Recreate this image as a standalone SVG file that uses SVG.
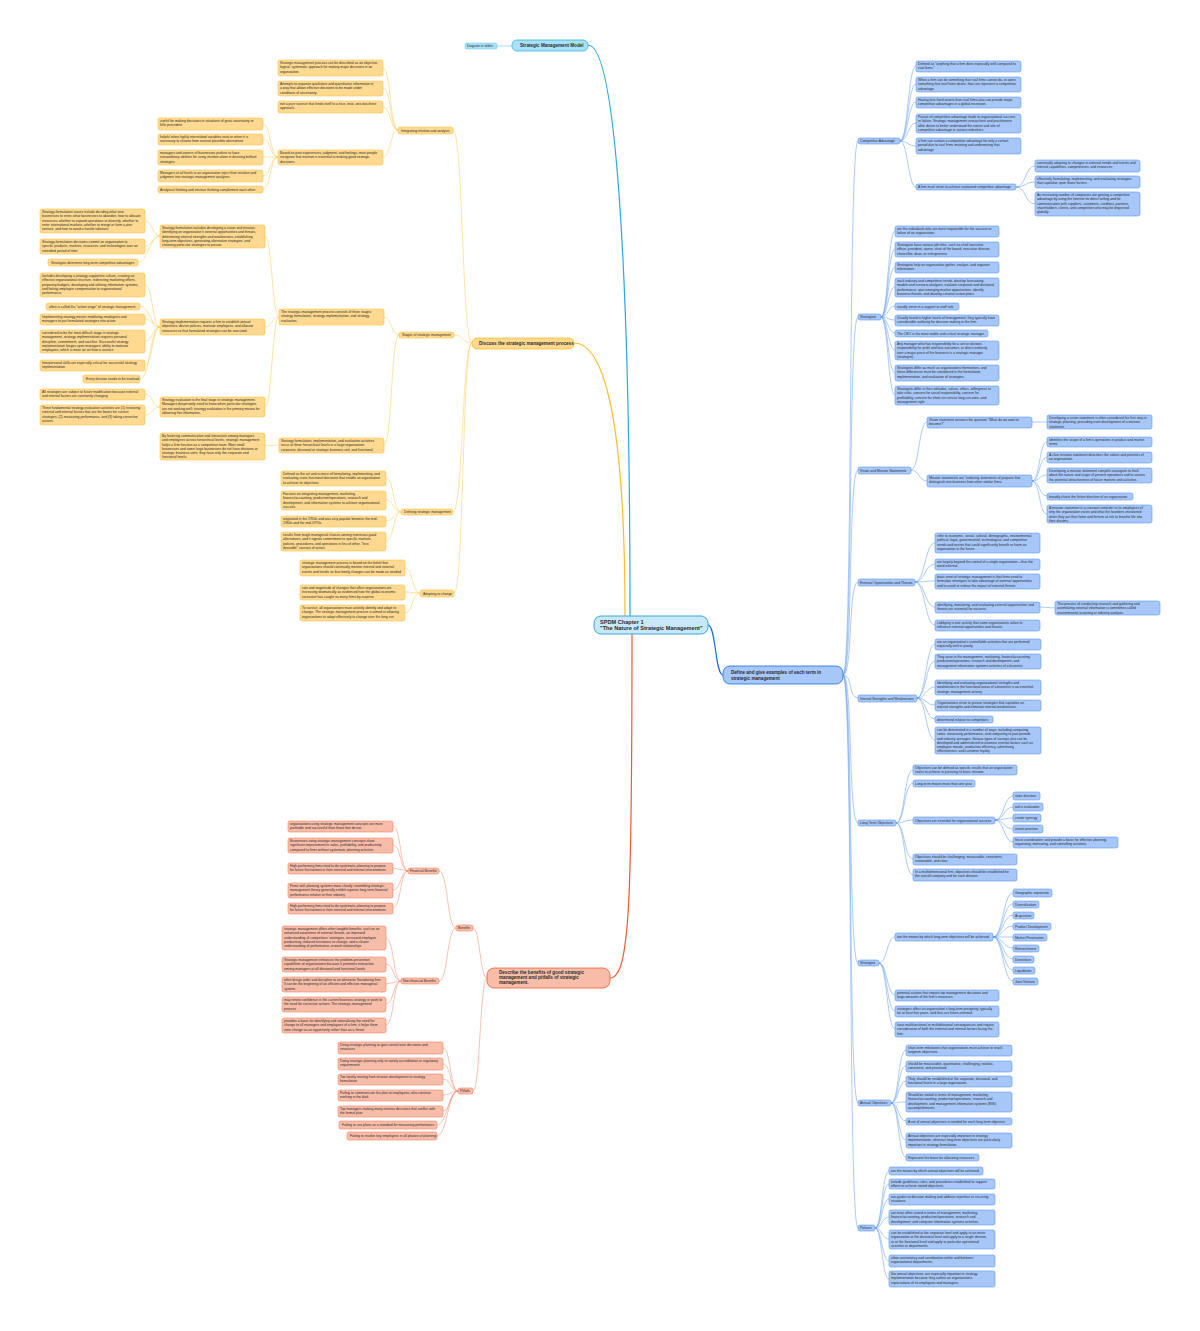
<svg xmlns="http://www.w3.org/2000/svg" width="1200" height="1331" viewBox="0 0 1200 1331">
<style>
text{font-family:"Liberation Sans",Arial,sans-serif;fill:#2b2b2b;font-size:3.4px}
.o{fill:#fed98f;stroke:#fcc245;stroke-width:.6}
.b{fill:#a7c7f9;stroke:#5d98ee;stroke-width:.6}
.r{fill:#f8bda9;stroke:#f2835f;stroke-width:.6}
.l2{font-size:3.8px}
.main{font-size:5px;font-weight:bold}
#connectors path{fill:none}
.co{stroke:#fcc64f;stroke-width:.5}
.cb{stroke:#5b97ee;stroke-width:.5}
.cr{stroke:#f2866a;stroke-width:.5}
</style>
<rect width="1200" height="1331" fill="#fff"/>
<g id="connectors">
<path d="M630,616 C630,300 618,45 588,45" stroke="#2aa6e6" stroke-width="1.2"/>
<path d="M512,46 L497,46" stroke="#6cc4ef" stroke-width=".6"/>
<path d="M625,616 C625,400 600,343 574,343" stroke="#fbbd2e" stroke-width="1.2"/>
<path d="M632,634 C632,900 630,978 610,978" stroke="#ef5a32" stroke-width="1.2"/>
<path d="M708,625 C716,625 715,675 723,675" stroke="#1a6fdd" stroke-width="1.2"/>
<g class="co">
<path d="M472,343 C462,343 463,130 453,130"/><path d="M472,343 C462,343 464,335 454,335"/><path d="M472,343 C462,343 463,512 453,512"/><path d="M472,343 C462,343 464,593 454,593"/>
<path d="M398,130 C390,130 391,68 383,68"/><path d="M398,130 C390,130 391,88 383,88"/><path d="M398,130 C390,130 391,107 383,107"/><path d="M398,130 C390,130 391,157 383,157"/>
<path d="M278,157 C270,157 271,124 263,124"/><path d="M278,157 C270,157 271,139 263,139"/><path d="M278,157 L263,157"/><path d="M278,157 C270,157 271,176 263,176"/><path d="M278,157 C270,157 271,189 263,189"/>
<path d="M399,335 C391,335 392,317 384,317"/><path d="M399,335 C391,335 392,445 384,445"/>
<path d="M279,317 C272,317 272,236 265,236"/><path d="M279,317 C272,317 272,327 265,327"/><path d="M279,317 C272,317 272,407 265,407"/>
<path d="M160,236 C152,236 153,221 145,221"/><path d="M160,236 C152,236 153,246 145,246"/><path d="M160,236 C150,236 148,262 138,262"/>
<path d="M160,327 C152,327 153,285 145,285"/><path d="M160,327 C150,327 150,306 140,306"/><path d="M160,327 C152,327 153,319 145,319"/><path d="M160,327 C152,327 153,341 145,341"/><path d="M160,327 C152,327 153,365 145,365"/><path d="M160,327 C150,327 150,379 140,379"/>
<path d="M160,407 C152,407 153,394 145,394"/><path d="M160,407 C152,407 153,415 145,415"/>
<path d="M279,445 L265,446"/>
<path d="M401,512 C393,512 394,478 386,478"/><path d="M401,512 C393,512 394,500 386,500"/><path d="M401,512 C393,512 394,521 386,521"/><path d="M401,512 C393,512 394,541 386,541"/>
<path d="M420,593 C412,593 413,568 405,568"/><path d="M420,593 L405,592"/><path d="M420,593 C412,593 413,613 405,613"/>
</g>
<g class="cb">
<path d="M843,675 C853,675 848,141 858,141"/><path d="M843,675 C853,675 848,317 858,317"/><path d="M843,675 C853,675 848,470 858,470"/><path d="M843,675 C853,675 848,582 858,582"/><path d="M843,675 C853,675 848,698 858,698"/><path d="M843,675 C853,675 848,823 858,823"/><path d="M843,675 C853,675 848,963 858,963"/><path d="M843,675 C853,675 848,1103 858,1103"/><path d="M843,675 C853,675 848,1228 858,1228"/>
<path d="M900,141 C908,141 908,66 916,66"/><path d="M900,141 C908,141 908,84 916,84"/><path d="M900,141 C908,141 908,102 916,102"/><path d="M900,141 C908,141 908,123 916,123"/><path d="M900,141 C908,141 908,146 916,146"/><path d="M900,141 C908,141 908,187 916,187"/>
<path d="M1016,187 C1026,187 1025,166 1035,166"/><path d="M1016,187 C1026,187 1025,182 1035,182"/><path d="M1016,187 C1026,187 1025,204 1035,204"/>
<path d="M881,317 C888,317 888,231 895,231"/><path d="M881,317 C888,317 888,249 895,249"/><path d="M881,317 C888,317 888,267 895,267"/><path d="M881,317 C888,317 888,287 895,287"/><path d="M881,317 C888,317 888,306 895,306"/><path d="M881,317 C888,317 888,320 895,320"/><path d="M881,317 C888,317 888,333 895,333"/><path d="M881,317 C888,317 888,350 895,350"/><path d="M881,317 C888,317 888,373 895,373"/><path d="M881,317 C888,317 888,395 895,395"/>
<path d="M911,470 C919,470 919,422 927,422"/><path d="M911,470 C919,470 919,481 927,481"/><path d="M1032,422 L1047,422"/>
<path d="M1032,481 C1040,481 1039,442 1047,442"/><path d="M1032,481 C1040,481 1039,457 1047,457"/><path d="M1032,481 C1040,481 1039,475 1047,475"/><path d="M1032,481 C1040,481 1039,496 1047,496"/><path d="M1032,481 C1040,481 1039,514 1047,514"/>
<path d="M915,582 C925,582 925,543 935,543"/><path d="M915,582 C925,582 925,564 935,564"/><path d="M915,582 C925,582 925,581 935,581"/><path d="M915,582 C925,582 925,607 935,607"/><path d="M915,582 C925,582 925,625 935,625"/><path d="M1040,607 L1055,608"/>
<path d="M917,698 C926,698 926,644 935,644"/><path d="M917,698 C926,698 926,661 935,661"/><path d="M917,698 C926,698 926,687 935,687"/><path d="M917,698 C926,698 926,705 935,705"/><path d="M917,698 C926,698 926,719 935,719"/><path d="M917,698 C926,698 926,740 935,740"/>
<path d="M896,823 C905,823 904,770 913,770"/><path d="M896,823 C905,823 904,783 913,783"/><path d="M896,823 C905,823 904,820 913,820"/><path d="M896,823 C905,823 904,859 913,859"/><path d="M896,823 C905,823 904,875 913,875"/>
<path d="M995,820 C1004,820 1004,796 1013,796"/><path d="M995,820 C1004,820 1004,807 1013,807"/><path d="M995,820 C1004,820 1004,818 1013,818"/><path d="M995,820 C1004,820 1004,829 1013,829"/><path d="M995,820 C1004,820 1004,842 1013,842"/>
<path d="M879,963 C887,963 887,937 895,937"/><path d="M879,963 C887,963 887,995 895,995"/><path d="M879,963 C887,963 887,1011 895,1011"/><path d="M879,963 C887,963 887,1029 895,1029"/>
<path d="M993,937 C1003,937 1003,893 1013,893"/><path d="M993,937 C1003,937 1003,904 1013,904"/><path d="M993,937 C1003,937 1003,915 1013,915"/><path d="M993,937 C1003,937 1003,926 1013,926"/><path d="M993,937 L1013,937"/><path d="M993,937 C1003,937 1003,948 1013,948"/><path d="M993,937 C1003,937 1003,959 1013,959"/><path d="M993,937 C1003,937 1003,970 1013,970"/><path d="M993,937 C1003,937 1003,981 1013,981"/>
<path d="M891,1103 C899,1103 898,1050 906,1050"/><path d="M891,1103 C899,1103 898,1066 906,1066"/><path d="M891,1103 C899,1103 898,1081 906,1081"/><path d="M891,1103 C899,1103 898,1102 906,1102"/><path d="M891,1103 C899,1103 898,1121 906,1121"/><path d="M891,1103 C899,1103 898,1140 906,1140"/><path d="M891,1103 C899,1103 898,1157 906,1157"/>
<path d="M875,1228 C882,1228 882,1171 889,1171"/><path d="M875,1228 C882,1228 882,1184 889,1184"/><path d="M875,1228 C882,1228 882,1199 889,1199"/><path d="M875,1228 C882,1228 882,1217 889,1217"/><path d="M875,1228 C882,1228 882,1239 889,1239"/><path d="M875,1228 C882,1228 882,1261 889,1261"/><path d="M875,1228 C882,1228 882,1279 889,1279"/>
</g>
<g class="cr">
<path d="M487,978 C480,978 480,928 473,928"/><path d="M487,978 C480,978 480,1091 473,1091"/>
<path d="M456,928 C447,928 448,871 439,871"/><path d="M456,928 C447,928 448,981 439,981"/>
<path d="M408,871 C400,871 401,826 393,826"/><path d="M408,871 C400,871 401,845 393,845"/><path d="M408,871 L393,868"/><path d="M408,871 C400,871 401,890 393,890"/><path d="M408,871 C400,871 401,908 393,908"/>
<path d="M401,981 C393,981 394,938 386,938"/><path d="M401,981 C393,981 394,964 386,964"/><path d="M401,981 L386,984"/><path d="M401,981 C393,981 394,1004 386,1004"/><path d="M401,981 C393,981 394,1025 386,1025"/>
<path d="M458,1091 C450,1091 451,1048 443,1048"/><path d="M458,1091 C450,1091 451,1064 443,1064"/><path d="M458,1091 C450,1091 451,1079 443,1079"/><path d="M458,1091 C450,1091 451,1095 443,1095"/><path d="M458,1091 C450,1091 451,1111 443,1111"/><path d="M458,1091 C448,1091 447,1125 437,1125"/><path d="M458,1091 C448,1091 447,1136 437,1136"/>
</g>
</g>

<g id="root"><rect x="594" y="616" width="114" height="18" rx="7" fill="#c6e8f8" stroke="#3aa7e0" stroke-width="1"/><text x="600" y="624" class="main" style="font-size:5.6px">SPDM Chapter 1<tspan x="600" dy="6">"The Nature of Strategic Management"</tspan></text></g>
<g id="smm"><rect x="512" y="40" width="76" height="11" rx="5" fill="#a8e1f8" stroke="#39b0e8" stroke-width=".8"/><text x="520" y="47.3" class="main" style="font-size:4.6px">Strategic Management Model</text></g>
<g id="slides"><rect x="465" y="43" width="32" height="6" rx="1.5" fill="#a8e1f8" stroke="#6cc4ef" stroke-width=".5"/><text x="467" y="47.3">Diagram in slides</text></g>
<g id="discuss"><rect x="472" y="338" width="102" height="11" rx="5" fill="#fed98f" stroke="#fbbd2e" stroke-width=".8"/><text x="479" y="345.2" class="main" style="font-size:4.6px">Discuss the strategic management process</text></g>
<g id="define"><rect x="723" y="666" width="120" height="18" rx="7" fill="#a7c7f9" stroke="#1a6fdd" stroke-width=".8"/><text x="731" y="674" class="main" style="font-size:4.6px">Define and give examples of each term in<tspan x="731" dy="5.5">strategic management</tspan></text></g>
<g id="describe"><rect x="487" y="968" width="123" height="20" rx="7" fill="#f8bda9" stroke="#ef5a32" stroke-width=".8"/><text x="499" y="974" class="main" style="font-size:4.6px">Describe the benefits of good strategic<tspan x="499" dy="5">management and pitfalls of strategic</tspan><tspan x="499" dy="5">management.</tspan></text></g>

<!-- orange -->
<g id="integ"><rect class="o" x="398" y="127" width="55" height="7" rx="2"/><text x="401" y="131.8">Integrating intuition and analysis</text></g>
<g id="i1"><rect class="o" x="278" y="60" width="105" height="16" rx="2"/><text x="280" y="64.3">Strategic management process can be described as an objective,<tspan x="280" dy="4.1">logical, systematic approach for making major decisions in an</tspan><tspan x="280" dy="4.1">organization.</tspan></text></g>
<g id="i2"><rect class="o" x="278" y="81" width="105" height="15" rx="2"/><text x="280" y="85.3">Attempts to organize qualitative and quantitative information in<tspan x="280" dy="4.1">a way that allows effective decisions to be made under</tspan><tspan x="280" dy="4.1">conditions of uncertainty.</tspan></text></g>
<g id="i3"><rect class="o" x="278" y="101" width="105" height="12" rx="2"/><text x="280" y="105.3">not a pure science that lends itself to a nice, neat, one-two-three<tspan x="280" dy="4.1">approach.</tspan></text></g>
<g id="i4"><rect class="o" x="278" y="150" width="105" height="15" rx="2"/><text x="280" y="154.3">Based on past experiences, judgment, and feelings, most people<tspan x="280" dy="4.1">recognize that intuition is essential to making good strategic</tspan><tspan x="280" dy="4.1">decisions.</tspan></text></g>
<g id="b1"><rect class="o" x="158" y="118" width="105" height="12" rx="2"/><text x="160" y="122.3">useful for making decisions in situations of great uncertainty or<tspan x="160" dy="4.1">little precedent</tspan></text></g>
<g id="b2"><rect class="o" x="158" y="134" width="105" height="11" rx="2"/><text x="160" y="138.3">helpful when highly interrelated variables exist or when it is<tspan x="160" dy="4.1">necessary to choose from several plausible alternatives</tspan></text></g>
<g id="b3"><rect class="o" x="158" y="150" width="105" height="15" rx="2"/><text x="160" y="154.3">managers and owners of businesses profess to have<tspan x="160" dy="4.1">extraordinary abilities for using intuition alone in devising brilliant</tspan><tspan x="160" dy="4.1">strategies</tspan></text></g>
<g id="b4"><rect class="o" x="158" y="170" width="105" height="12" rx="2"/><text x="160" y="174.3">Managers at all levels in an organization inject their intuition and<tspan x="160" dy="4.1">judgment into strategic-management analyses.</tspan></text></g>
<g id="b5"><rect class="o" x="158" y="186" width="105" height="7" rx="2"/><text x="160" y="190.6">Analytical thinking and intuitive thinking complement each other.</text></g>

<g id="stages"><rect class="o" x="399" y="332" width="55" height="6" rx="2"/><text x="402" y="336.3">Stages of strategic management</text></g>
<g id="s1"><rect class="o" x="279" y="309" width="105" height="16" rx="2"/><text x="281" y="313.3">The strategic-management process consists of three stages:<tspan x="281" dy="4.1">strategy formulation, strategy implementation, and strategy</tspan><tspan x="281" dy="4.1">evaluation.</tspan></text></g>
<g id="f0"><rect class="o" x="160" y="225" width="105" height="23" rx="2"/><text x="162" y="229.3">Strategy formulation includes developing a vision and mission,<tspan x="162" dy="4.1">identifying an organization's external opportunities and threats,</tspan><tspan x="162" dy="4.1">determining internal strengths and weaknesses, establishing</tspan><tspan x="162" dy="4.1">long-term objectives, generating alternative strategies, and</tspan><tspan x="162" dy="4.1">choosing particular strategies to pursue.</tspan></text></g>
<g id="f1"><rect class="o" x="40" y="209" width="105" height="24" rx="2"/><text x="42" y="213.3">Strategy-formulation issues include deciding what new<tspan x="42" dy="4.1">businesses to enter, what businesses to abandon, how to allocate</tspan><tspan x="42" dy="4.1">resources, whether to expand operations or diversify, whether to</tspan><tspan x="42" dy="4.1">enter international markets, whether to merge or form a joint</tspan><tspan x="42" dy="4.1">venture, and how to avoid a hostile takeover.</tspan></text></g>
<g id="f2"><rect class="o" x="40" y="239" width="105" height="15" rx="2"/><text x="42" y="243.3">Strategy-formulation decisions commit an organization to<tspan x="42" dy="4.1">specific products, markets, resources, and technologies over an</tspan><tspan x="42" dy="4.1">extended period of time.</tspan></text></g>
<g id="f3"><rect class="o" x="48" y="259" width="90" height="7" rx="2"/><text x="51" y="263.6">Strategies determine long-term competitive advantages</text></g>
<g id="m0"><rect class="o" x="160" y="319" width="105" height="16" rx="2"/><text x="162" y="323.3">Strategy implementation requires a firm to establish annual<tspan x="162" dy="4.1">objectives, devise policies, motivate employees, and allocate</tspan><tspan x="162" dy="4.1">resources so that formulated strategies can be executed.</tspan></text></g>
<g id="m1"><rect class="o" x="40" y="273" width="105" height="24" rx="2"/><text x="42" y="277.3">Includes developing a strategy-supportive culture, creating an<tspan x="42" dy="4.1">effective organizational structure, redirecting marketing efforts,</tspan><tspan x="42" dy="4.1">preparing budgets, developing and utilizing information systems,</tspan><tspan x="42" dy="4.1">and linking employee compensation to organizational</tspan><tspan x="42" dy="4.1">performance.</tspan></text></g>
<g id="m2"><rect class="o" x="46" y="303" width="94" height="7" rx="2"/><text x="49" y="307.6">often is called the "action stage" of strategic management.</text></g>
<g id="m3"><rect class="o" x="40" y="314" width="105" height="11" rx="2"/><text x="42" y="318.3">Implementing strategy means mobilizing employees and<tspan x="42" dy="4.1">managers to put formulated strategies into action</tspan></text></g>
<g id="m4"><rect class="o" x="40" y="330" width="105" height="23" rx="2"/><text x="42" y="334.3">considered to be the most difficult stage in strategic<tspan x="42" dy="4.1">management, strategy implementation requires personal</tspan><tspan x="42" dy="4.1">discipline, commitment, and sacrifice. Successful strategy</tspan><tspan x="42" dy="4.1">implementation hinges upon managers' ability to motivate</tspan><tspan x="42" dy="4.1">employees, which is more an art than a science.</tspan></text></g>
<g id="m5"><rect class="o" x="40" y="360" width="105" height="11" rx="2"/><text x="42" y="364.3">Interpersonal skills are especially critical for successful strategy<tspan x="42" dy="4.1">implementation.</tspan></text></g>
<g id="m6"><rect class="o" x="83" y="375" width="57" height="8" rx="2"/><text x="86" y="380">Every division needs to be involved</text></g>
<g id="e0"><rect class="o" x="160" y="397" width="105" height="20" rx="2"/><text x="162" y="401.3">Strategy evaluation is the final stage in strategic management.<tspan x="162" dy="4.1">Managers desperately need to know when particular strategies</tspan><tspan x="162" dy="4.1">are not working well; strategy evaluation is the primary means for</tspan><tspan x="162" dy="4.1">obtaining this information.</tspan></text></g>
<g id="e1"><rect class="o" x="40" y="389" width="105" height="11" rx="2"/><text x="42" y="393.3">All strategies are subject to future modification because external<tspan x="42" dy="4.1">and internal factors are constantly changing</tspan></text></g>
<g id="e2"><rect class="o" x="40" y="405" width="105" height="20" rx="2"/><text x="42" y="409.3">Three fundamental strategy-evaluation activities are (1) reviewing<tspan x="42" dy="4.1">external and internal factors that are the bases for current</tspan><tspan x="42" dy="4.1">strategies, (2) measuring performance, and (3) taking corrective</tspan><tspan x="42" dy="4.1">actions.</tspan></text></g>
<g id="s2"><rect class="o" x="279" y="438" width="105" height="15" rx="2"/><text x="281" y="442.3">Strategy formulation, implementation, and evaluation activities<tspan x="281" dy="4.1">occur at three hierarchical levels in a large organization:</tspan><tspan x="281" dy="4.1">corporate, divisional or strategic business unit, and functional.</tspan></text></g>
<g id="s3"><rect class="o" x="160" y="433" width="105" height="27" rx="2"/><text x="162" y="437.3">By fostering communication and interaction among managers<tspan x="162" dy="4.1">and employees across hierarchical levels, strategic management</tspan><tspan x="162" dy="4.1">helps a firm function as a competitive team. Most small</tspan><tspan x="162" dy="4.1">businesses and some large businesses do not have divisions or</tspan><tspan x="162" dy="4.1">strategic business units; they have only the corporate and</tspan><tspan x="162" dy="4.1">functional levels.</tspan></text></g>

<g id="defining"><rect class="o" x="401" y="509" width="52" height="6" rx="2"/><text x="404" y="513.3">Defining strategic management</text></g>
<g id="d1"><rect class="o" x="281" y="471" width="105" height="15" rx="2"/><text x="283" y="475.3">Defined as the art and science of formulating, implementing, and<tspan x="283" dy="4.1">evaluating cross-functional decisions that enable an organization</tspan><tspan x="283" dy="4.1">to achieve its objectives</tspan></text></g>
<g id="d2"><rect class="o" x="281" y="491" width="105" height="19" rx="2"/><text x="283" y="495.3">Focuses on integrating management, marketing,<tspan x="283" dy="4.1">finance/accounting, production/operations, research and</tspan><tspan x="283" dy="4.1">development, and information systems to achieve organizational</tspan><tspan x="283" dy="4.1">success</tspan></text></g>
<g id="d3"><rect class="o" x="281" y="516" width="105" height="11" rx="2"/><text x="283" y="520.3">originated in the 1950s and was very popular between the mid-<tspan x="283" dy="4.1">1960s and the mid-1970s</tspan></text></g>
<g id="d4"><rect class="o" x="281" y="532" width="105" height="19" rx="2"/><text x="283" y="536.3">results from tough managerial choices among numerous good<tspan x="283" dy="4.1">alternatives, and it signals commitment to specific markets,</tspan><tspan x="283" dy="4.1">policies, procedures, and operations in lieu of other, "less</tspan><tspan x="283" dy="4.1">desirable" courses of action.</tspan></text></g>
<g id="adapt"><rect class="o" x="420" y="590" width="34" height="7" rx="2"/><text x="423" y="594.6">Adapting to change</text></g>
<g id="a1"><rect class="o" x="300" y="560" width="105" height="16" rx="2"/><text x="302" y="564.3">strategic management process is based on the belief that<tspan x="302" dy="4.1">organizations should continually monitor internal and external</tspan><tspan x="302" dy="4.1">events and trends so that timely changes can be made as needed</tspan></text></g>
<g id="a2"><rect class="o" x="300" y="585" width="105" height="15" rx="2"/><text x="302" y="589.3">rate and magnitude of changes that affect organizations are<tspan x="302" dy="4.1">increasing dramatically as evidenced how the global economic</tspan><tspan x="302" dy="4.1">recession has caught so many firms by surprise.</tspan></text></g>
<g id="a3"><rect class="o" x="300" y="605" width="105" height="16" rx="2"/><text x="302" y="609.3">To survive, all organizations must astutely identify and adapt to<tspan x="302" dy="4.1">change. The strategic-management process is aimed at allowing</tspan><tspan x="302" dy="4.1">organizations to adapt effectively to change over the long run.</tspan></text></g>

<!-- blue -->
<g id="ca"><rect class="b" x="858" y="138" width="42" height="6" rx="2"/><text x="860" y="142.3">Competitive Advantage</text></g>
<g id="ca1"><rect class="b" x="916" y="61" width="105" height="11" rx="2"/><text x="918" y="65.3">Defined as "anything that a firm does especially well compared to<tspan x="918" dy="4.1">rival firms."</tspan></text></g>
<g id="ca2"><rect class="b" x="916" y="77" width="105" height="15" rx="2"/><text x="918" y="81.3">When a firm can do something that rival firms cannot do, or owns<tspan x="918" dy="4.1">something that rival firms desire, that can represent a competitive</tspan><tspan x="918" dy="4.1">advantage</tspan></text></g>
<g id="ca3"><rect class="b" x="916" y="97" width="105" height="11" rx="2"/><text x="918" y="101.3">Having less fixed assets than rival firms also can provide major<tspan x="918" dy="4.1">competitive advantages in a global recession.</tspan></text></g>
<g id="ca4"><rect class="b" x="916" y="114" width="105" height="19" rx="2"/><text x="918" y="118.3">Pursuit of competitive advantage leads to organizational success<tspan x="918" dy="4.1">or failure. Strategic management researchers and practitioners</tspan><tspan x="918" dy="4.1">alike desire to better understand the nature and role of</tspan><tspan x="918" dy="4.1">competitive advantage in various industries.</tspan></text></g>
<g id="ca5"><rect class="b" x="916" y="138" width="105" height="16" rx="2"/><text x="918" y="142.3">a firm can sustain a competitive advantage for only a certain<tspan x="918" dy="4.1">period due to rival firms imitating and undermining that</tspan><tspan x="918" dy="4.1">advantage</tspan></text></g>
<g id="ca6"><rect class="b" x="916" y="184" width="100" height="6" rx="2"/><text x="918" y="188.3">A firm must strive to achieve sustained competitive advantage</text></g>
<g id="ca7"><rect class="b" x="1035" y="160" width="105" height="12" rx="2"/><text x="1037" y="164.3">continually adapting to changes in external trends and events and<tspan x="1037" dy="4.1">internal capabilities, competencies, and resources;</tspan></text></g>
<g id="ca8"><rect class="b" x="1035" y="176" width="105" height="12" rx="2"/><text x="1037" y="180.3">effectively formulating, implementing, and evaluating strategies<tspan x="1037" dy="4.1">that capitalize upon those factors.</tspan></text></g>
<g id="ca9"><rect class="b" x="1035" y="192" width="105" height="24" rx="2"/><text x="1037" y="196.3">An increasing number of companies are gaining a competitive<tspan x="1037" dy="4.1">advantage by using the Internet for direct selling and for</tspan><tspan x="1037" dy="4.1">communication with suppliers, customers, creditors, partners,</tspan><tspan x="1037" dy="4.1">shareholders, clients, and competitors who may be dispersed</tspan><tspan x="1037" dy="4.1">globally.</tspan></text></g>

<g id="strat1"><rect class="b" x="858" y="314" width="23" height="6" rx="2"/><text x="860" y="318.3">Strategists</text></g>
<g id="st1"><rect class="b" x="895" y="226" width="104" height="11" rx="2"/><text x="897" y="230.3">are the individuals who are most responsible for the success or<tspan x="897" dy="4.1">failure of an organization.</tspan></text></g>
<g id="st2"><rect class="b" x="895" y="242" width="104" height="15" rx="2"/><text x="897" y="246.3">Strategists have various job titles, such as chief executive<tspan x="897" dy="4.1">officer, president, owner, chair of the board, executive director,</tspan><tspan x="897" dy="4.1">chancellor, dean, or entrepreneur.</tspan></text></g>
<g id="st3"><rect class="b" x="895" y="262" width="104" height="11" rx="2"/><text x="897" y="266.3">Strategists help an organization gather, analyze, and organize<tspan x="897" dy="4.1">information.</tspan></text></g>
<g id="st4"><rect class="b" x="895" y="278" width="104" height="19" rx="2"/><text x="897" y="282.3">track industry and competitive trends, develop forecasting<tspan x="897" dy="4.1">models and scenario analyses, evaluate corporate and divisional</tspan><tspan x="897" dy="4.1">performance, spot emerging market opportunities, identify</tspan><tspan x="897" dy="4.1">business threats, and develop creative action plans.</tspan></text></g>
<g id="st5"><rect class="b" x="895" y="303" width="64" height="7" rx="2"/><text x="897" y="307.6">usually serve in a support or staff role.</text></g>
<g id="st6"><rect class="b" x="895" y="315" width="104" height="11" rx="2"/><text x="897" y="319.3">Usually found in higher levels of management, they typically have<tspan x="897" dy="4.1">considerable authority for decision making in the firm.</tspan></text></g>
<g id="st7"><rect class="b" x="895" y="330" width="93" height="7" rx="2"/><text x="897" y="334.6">The CEO is the most visible and critical strategic manager.</text></g>
<g id="st8"><rect class="b" x="895" y="341" width="104" height="19" rx="2"/><text x="897" y="345.3">Any manager who has responsibility for a unit or division,<tspan x="897" dy="4.1">responsibility for profit and loss outcomes, or direct authority</tspan><tspan x="897" dy="4.1">over a major piece of the business is a strategic manager</tspan><tspan x="897" dy="4.1">(strategist).</tspan></text></g>
<g id="st9"><rect class="b" x="895" y="365" width="104" height="16" rx="2"/><text x="897" y="369.3">Strategists differ as much as organizations themselves, and<tspan x="897" dy="4.1">these differences must be considered in the formulation,</tspan><tspan x="897" dy="4.1">implementation, and evaluation of strategies.</tspan></text></g>
<g id="st10"><rect class="b" x="895" y="386" width="104" height="19" rx="2"/><text x="897" y="390.3">Strategists differ in their attitudes, values, ethics, willingness to<tspan x="897" dy="4.1">take risks, concern for social responsibility, concern for</tspan><tspan x="897" dy="4.1">profitability, concern for short-run versus long-run aims, and</tspan><tspan x="897" dy="4.1">management style</tspan></text></g>

<g id="vm"><rect class="b" x="858" y="467" width="53" height="7" rx="2"/><text x="860" y="471.6">Vision and Mission Statements</text></g>
<g id="vm1"><rect class="b" x="927" y="417" width="105" height="11" rx="2"/><text x="929" y="421.3">Vision statement answers the question "What do we want to<tspan x="929" dy="4.1">become?"</tspan></text></g>
<g id="vm2"><rect class="b" x="1047" y="415" width="105" height="14" rx="2"/><text x="1049" y="419.3">Developing a vision statement is often considered the first step in<tspan x="1049" dy="4.1">strategic planning, preceding even development of a mission</tspan><tspan x="1049" dy="4.1">statement.</tspan></text></g>
<g id="vm3"><rect class="b" x="927" y="475" width="105" height="12" rx="2"/><text x="929" y="479.3">Mission statements are "enduring statements of purpose that<tspan x="929" dy="4.1">distinguish one business from other similar firms.</tspan></text></g>
<g id="vm4"><rect class="b" x="1047" y="437" width="105" height="10" rx="2"/><text x="1049" y="441">Identifies the scope of a firm's operations in product and market<tspan x="1049" dy="4.1">terms</tspan></text></g>
<g id="vm5"><rect class="b" x="1047" y="452" width="105" height="11" rx="2"/><text x="1049" y="456.3">A clear mission statement describes the values and priorities of<tspan x="1049" dy="4.1">an organization.</tspan></text></g>
<g id="vm6"><rect class="b" x="1047" y="468" width="105" height="15" rx="2"/><text x="1049" y="472.3">Developing a mission statement compels strategists to think<tspan x="1049" dy="4.1">about the nature and scope of present operations and to assess</tspan><tspan x="1049" dy="4.1">the potential attractiveness of future markets and activities.</tspan></text></g>
<g id="vm7"><rect class="b" x="1047" y="493" width="86" height="7" rx="2"/><text x="1049" y="497.6">broadly charts the future direction of an organization.</text></g>
<g id="vm8"><rect class="b" x="1047" y="505" width="105" height="18" rx="2"/><text x="1049" y="509.3">A mission statement is a constant reminder to its employees of<tspan x="1049" dy="4.1">why the organization exists and what the founders envisioned</tspan><tspan x="1049" dy="4.1">when they put their fame and fortune at risk to breathe life into</tspan><tspan x="1049" dy="4.1">their dreams.</tspan></text></g>

<g id="eot"><rect class="b" x="858" y="579" width="57" height="7" rx="2"/><text x="860" y="583.6">External Opportunities and Threats</text></g>
<g id="eo1"><rect class="b" x="935" y="533" width="105" height="20" rx="2"/><text x="937" y="537.3">refer to economic, social, cultural, demographic, environmental,<tspan x="937" dy="4.1">political, legal, governmental, technological, and competitive</tspan><tspan x="937" dy="4.1">trends and events that could significantly benefit or harm an</tspan><tspan x="937" dy="4.1">organization in the future.</tspan></text></g>
<g id="eo2"><rect class="b" x="935" y="559" width="105" height="11" rx="2"/><text x="937" y="563.3">are largely beyond the control of a single organization—thus the<tspan x="937" dy="4.1">word external.</tspan></text></g>
<g id="eo3"><rect class="b" x="935" y="574" width="105" height="15" rx="2"/><text x="937" y="578.3">basic tenet of strategic management is that firms need to<tspan x="937" dy="4.1">formulate strategies to take advantage of external opportunities</tspan><tspan x="937" dy="4.1">and to avoid or reduce the impact of external threats.</tspan></text></g>
<g id="eo4"><rect class="b" x="935" y="602" width="105" height="11" rx="2"/><text x="937" y="606.3">identifying, monitoring, and evaluating external opportunities and<tspan x="937" dy="4.1">threats are essential for success.</tspan></text></g>
<g id="eo5"><rect class="b" x="1055" y="601" width="105" height="14" rx="2"/><text x="1057" y="605.3">This process of conducting research and gathering and<tspan x="1057" dy="4.1">assimilating external information is sometimes called</tspan><tspan x="1057" dy="4.1">environmental scanning or industry analysis.</tspan></text></g>
<g id="eo6"><rect class="b" x="935" y="620" width="105" height="11" rx="2"/><text x="937" y="624.3">Lobbying is one activity that some organizations utilize to<tspan x="937" dy="4.1">influence external opportunities and threats.</tspan></text></g>

<g id="isw"><rect class="b" x="858" y="695" width="59" height="7" rx="2"/><text x="860" y="699.6">Internal Strengths and Weaknesses</text></g>
<g id="is1"><rect class="b" x="935" y="639" width="106" height="11" rx="2"/><text x="937" y="643.3">are an organization's controllable activities that are performed<tspan x="937" dy="4.1">especially well or poorly.</tspan></text></g>
<g id="is2"><rect class="b" x="935" y="654" width="106" height="15" rx="2"/><text x="937" y="658.3">They arise in the management, marketing, finance/accounting,<tspan x="937" dy="4.1">production/operations, research and development, and</tspan><tspan x="937" dy="4.1">management information systems activities of a business</tspan></text></g>
<g id="is3"><rect class="b" x="935" y="680" width="106" height="15" rx="2"/><text x="937" y="684.3">Identifying and evaluating organizational strengths and<tspan x="937" dy="4.1">weaknesses in the functional areas of a business is an essential</tspan><tspan x="937" dy="4.1">strategic management activity.</tspan></text></g>
<g id="is4"><rect class="b" x="935" y="700" width="106" height="11" rx="2"/><text x="937" y="704.3">Organizations strive to pursue strategies that capitalize on<tspan x="937" dy="4.1">internal strengths and eliminate internal weaknesses.</tspan></text></g>
<g id="is5"><rect class="b" x="935" y="716" width="58" height="7" rx="2"/><text x="937" y="720.6">determined relative to competitors</text></g>
<g id="is6"><rect class="b" x="935" y="727" width="106" height="27" rx="2"/><text x="937" y="731.3">can be determined in a number of ways, including computing<tspan x="937" dy="4.1">ratios, measuring performance, and comparing to past periods</tspan><tspan x="937" dy="4.1">and industry averages. Various types of surveys also can be</tspan><tspan x="937" dy="4.1">developed and administered to examine internal factors such as</tspan><tspan x="937" dy="4.1">employee morale, production efficiency, advertising</tspan><tspan x="937" dy="4.1">effectiveness, and customer loyalty.</tspan></text></g>

<g id="lto"><rect class="b" x="858" y="820" width="38" height="6" rx="2"/><text x="860" y="824.3">Long-Term Objectives</text></g>
<g id="lt1"><rect class="b" x="913" y="765" width="104" height="10" rx="2"/><text x="915" y="769">Objectives can be defined as specific results that an organization<tspan x="915" dy="4.1">seeks to achieve in pursuing its basic mission.</tspan></text></g>
<g id="lt2"><rect class="b" x="913" y="780" width="62" height="7" rx="2"/><text x="915" y="784.6">Long-term means more than one year</text></g>
<g id="lt3"><rect class="b" x="913" y="817" width="82" height="7" rx="2"/><text x="915" y="821.6">Objectives are essential for organizational success</text></g>
<g id="lt4"><rect class="b" x="1013" y="792" width="27" height="8" rx="2"/><text x="1015" y="797.2">state direction</text></g>
<g id="lt5"><rect class="b" x="1013" y="803" width="30" height="8" rx="2"/><text x="1015" y="808.2">aid in evaluation</text></g>
<g id="lt6"><rect class="b" x="1013" y="814" width="28" height="8" rx="2"/><text x="1015" y="819.2">create synergy</text></g>
<g id="lt7"><rect class="b" x="1013" y="825" width="30" height="8" rx="2"/><text x="1015" y="830.2">reveal priorities</text></g>
<g id="lt8"><rect class="b" x="1013" y="837" width="105" height="11" rx="2"/><text x="1015" y="841.3">focus coordination; and provide a basis for effective planning,<tspan x="1015" dy="4.1">organizing, motivating, and controlling activities.</tspan></text></g>
<g id="lt9"><rect class="b" x="913" y="854" width="104" height="11" rx="2"/><text x="915" y="858.3">Objectives should be challenging, measurable, consistent,<tspan x="915" dy="4.1">reasonable, and clear</tspan></text></g>
<g id="lt10"><rect class="b" x="913" y="869" width="104" height="12" rx="2"/><text x="915" y="873.3">In a multidimensional firm, objectives should be established for<tspan x="915" dy="4.1">the overall company and for each division.</tspan></text></g>

<g id="strat2"><rect class="b" x="858" y="960" width="21" height="6" rx="2"/><text x="860" y="964.3">Strategies</text></g>
<g id="sg0"><rect class="b" x="895" y="933" width="98" height="8" rx="2"/><text x="897" y="938">are the means by which long-term objectives will be achieved.</text></g>
<g id="sg1"><rect class="b" x="1013" y="889" width="39" height="8" rx="2"/><text x="1015" y="894.2">Geographic expansion</text></g>
<g id="sg2"><rect class="b" x="1013" y="901" width="26" height="7" rx="2"/><text x="1015" y="905.6">Diversification</text></g>
<g id="sg3"><rect class="b" x="1013" y="912" width="21" height="7" rx="2"/><text x="1015" y="916.6">Acquisition</text></g>
<g id="sg4"><rect class="b" x="1013" y="923" width="38" height="7" rx="2"/><text x="1015" y="927.6">Product Development</text></g>
<g id="sg5"><rect class="b" x="1013" y="934" width="34" height="7" rx="2"/><text x="1015" y="938.6">Market Penetration</text></g>
<g id="sg6"><rect class="b" x="1013" y="945" width="26" height="7" rx="2"/><text x="1015" y="949.6">Retrenchment</text></g>
<g id="sg7"><rect class="b" x="1013" y="956" width="21" height="7" rx="2"/><text x="1015" y="960.6">Divestiture</text></g>
<g id="sg8"><rect class="b" x="1013" y="967" width="22" height="7" rx="2"/><text x="1015" y="971.6">Liquidation</text></g>
<g id="sg9"><rect class="b" x="1013" y="978" width="25" height="7" rx="2"/><text x="1015" y="982.6">Joint Venture</text></g>
<g id="sg10"><rect class="b" x="895" y="990" width="104" height="11" rx="2"/><text x="897" y="994.3">potential actions that require top management decisions and<tspan x="897" dy="4.1">large amounts of the firm's resources</tspan></text></g>
<g id="sg11"><rect class="b" x="895" y="1006" width="104" height="11" rx="2"/><text x="897" y="1010.3">strategies affect an organization's long-term prosperity, typically<tspan x="897" dy="4.1">for at least five years, and thus are future-oriented</tspan></text></g>
<g id="sg12"><rect class="b" x="895" y="1022" width="104" height="15" rx="2"/><text x="897" y="1026.3">have multifunctional or multidivisional consequences and require<tspan x="897" dy="4.1">consideration of both the external and internal factors facing the</tspan><tspan x="897" dy="4.1">firm.</tspan></text></g>

<g id="ao"><rect class="b" x="858" y="1100" width="33" height="6" rx="2"/><text x="860" y="1104.3">Annual Objectives</text></g>
<g id="ao1"><rect class="b" x="906" y="1045" width="106" height="11" rx="2"/><text x="908" y="1049.3">short-term milestones that organizations must achieve to reach<tspan x="908" dy="4.1">longterm objectives.</tspan></text></g>
<g id="ao2"><rect class="b" x="906" y="1061" width="106" height="11" rx="2"/><text x="908" y="1065.3">should be measurable, quantitative, challenging, realistic,<tspan x="908" dy="4.1">consistent, and prioritized</tspan></text></g>
<g id="ao3"><rect class="b" x="906" y="1076" width="106" height="11" rx="2"/><text x="908" y="1080.3">They should be established at the corporate, divisional, and<tspan x="908" dy="4.1">functional levels in a large organization.</tspan></text></g>
<g id="ao4"><rect class="b" x="906" y="1092" width="106" height="20" rx="2"/><text x="908" y="1096.3">Should be stated in terms of management, marketing,<tspan x="908" dy="4.1">finance/accounting, production/operations, research and</tspan><tspan x="908" dy="4.1">development, and management information systems (MIS)</tspan><tspan x="908" dy="4.1">accomplishments.</tspan></text></g>
<g id="ao5"><rect class="b" x="906" y="1118" width="106" height="7" rx="2"/><text x="908" y="1122.6">A set of annual objectives is needed for each long-term objective.</text></g>
<g id="ao6"><rect class="b" x="906" y="1133" width="106" height="15" rx="2"/><text x="908" y="1137.3">Annual objectives are especially important in strategy<tspan x="908" dy="4.1">implementation, whereas long-term objectives are particularly</tspan><tspan x="908" dy="4.1">important in strategy formulation.</tspan></text></g>
<g id="ao7"><rect class="b" x="906" y="1154" width="73" height="7" rx="2"/><text x="908" y="1158.6">Represent the basis for allocating resources</text></g>

<g id="pol"><rect class="b" x="858" y="1225" width="17" height="6" rx="2"/><text x="860" y="1229.3">Policies</text></g>
<g id="p1"><rect class="b" x="889" y="1167" width="94" height="8" rx="2"/><text x="891" y="1172">are the means by which annual objectives will be achieved</text></g>
<g id="p2"><rect class="b" x="889" y="1179" width="106" height="10" rx="2"/><text x="891" y="1183">include guidelines, rules, and procedures established to support<tspan x="891" dy="4.1">efforts to achieve stated objectives.</tspan></text></g>
<g id="p3"><rect class="b" x="889" y="1194" width="106" height="11" rx="2"/><text x="891" y="1198.3">are guides to decision making and address repetitive or recurring<tspan x="891" dy="4.1">situations.</tspan></text></g>
<g id="p4"><rect class="b" x="889" y="1210" width="106" height="15" rx="2"/><text x="891" y="1214.3">are most often stated in terms of management, marketing,<tspan x="891" dy="4.1">finance/accounting, production/operations, research and</tspan><tspan x="891" dy="4.1">development, and computer information systems activities.</tspan></text></g>
<g id="p5"><rect class="b" x="889" y="1230" width="106" height="19" rx="2"/><text x="891" y="1234.3">can be established at the corporate level and apply to an entire<tspan x="891" dy="4.1">organization at the divisional level and apply to a single division,</tspan><tspan x="891" dy="4.1">or at the functional level and apply to particular operational</tspan><tspan x="891" dy="4.1">activities or departments</tspan></text></g>
<g id="p6"><rect class="b" x="889" y="1255" width="106" height="12" rx="2"/><text x="891" y="1259.3">allow consistency and coordination within and between<tspan x="891" dy="4.1">organizational departments.</tspan></text></g>
<g id="p7"><rect class="b" x="889" y="1271" width="106" height="16" rx="2"/><text x="891" y="1275.3">like annual objectives, are especially important in strategy<tspan x="891" dy="4.1">implementation because they outline an organization's</tspan><tspan x="891" dy="4.1">expectations of its employees and managers.</tspan></text></g>

<!-- red -->
<g id="ben"><rect class="r" x="456" y="925" width="17" height="6" rx="2"/><text x="458" y="929.3">Benefits</text></g>
<g id="fin"><rect class="r" x="408" y="868" width="31" height="6" rx="2"/><text x="410" y="872.3">Financial Benefits</text></g>
<g id="fb1"><rect class="r" x="288" y="821" width="105" height="11" rx="2"/><text x="290" y="825.3">organizations using strategic management concepts are more<tspan x="290" dy="4.1">profitable and successful than those that do not.</tspan></text></g>
<g id="fb2"><rect class="r" x="288" y="838" width="105" height="15" rx="2"/><text x="290" y="842.3">Businesses using strategic-management concepts show<tspan x="290" dy="4.1">significant improvement in sales, profitability, and productivity</tspan><tspan x="290" dy="4.1">compared to firms without systematic planning activities</tspan></text></g>
<g id="fb3"><rect class="r" x="288" y="863" width="105" height="11" rx="2"/><text x="290" y="867.3">High-performing firms tend to do systematic planning to prepare<tspan x="290" dy="4.1">for future fluctuations in their external and internal environments.</tspan></text></g>
<g id="fb4"><rect class="r" x="288" y="883" width="105" height="15" rx="2"/><text x="290" y="887.3">Firms with planning systems more closely resembling strategic-<tspan x="290" dy="4.1">management theory generally exhibit superior long-term financial</tspan><tspan x="290" dy="4.1">performance relative to their industry</tspan></text></g>
<g id="fb5"><rect class="r" x="288" y="903" width="105" height="11" rx="2"/><text x="290" y="907.3">High-performing firms tend to do systematic planning to prepare<tspan x="290" dy="4.1">for future fluctuations in their external and internal environments.</tspan></text></g>
<g id="nonfin"><rect class="r" x="401" y="978" width="38" height="6" rx="2"/><text x="403" y="982.3">Non-financial Benefits</text></g>
<g id="nb1"><rect class="r" x="282" y="926" width="104" height="24" rx="2"/><text x="284" y="930.3">strategic management offers other tangible benefits, such as an<tspan x="284" dy="4.1">enhanced awareness of external threats, an improved</tspan><tspan x="284" dy="4.1">understanding of competitors' strategies, increased employee</tspan><tspan x="284" dy="4.1">productivity, reduced resistance to change, and a clearer</tspan><tspan x="284" dy="4.1">understanding of performance–reward relationships</tspan></text></g>
<g id="nb2"><rect class="r" x="282" y="957" width="104" height="15" rx="2"/><text x="284" y="961.3">Strategic management enhances the problem-prevention<tspan x="284" dy="4.1">capabilities of organizations because it promotes interaction</tspan><tspan x="284" dy="4.1">among managers at all divisional and functional levels</tspan></text></g>
<g id="nb3"><rect class="r" x="282" y="977" width="104" height="15" rx="2"/><text x="284" y="981.3">often brings order and discipline to an otherwise floundering firm.<tspan x="284" dy="4.1">It can be the beginning of an efficient and effective managerial</tspan><tspan x="284" dy="4.1">system.</tspan></text></g>
<g id="nb4"><rect class="r" x="282" y="997" width="104" height="15" rx="2"/><text x="284" y="1001.3">may renew confidence in the current business strategy or point to<tspan x="284" dy="4.1">the need for corrective actions. The strategic-management</tspan><tspan x="284" dy="4.1">process</tspan></text></g>
<g id="nb5"><rect class="r" x="282" y="1018" width="104" height="15" rx="2"/><text x="284" y="1022.3">provides a basis for identifying and rationalizing the need for<tspan x="284" dy="4.1">change to all managers and employees of a firm; it helps them</tspan><tspan x="284" dy="4.1">view change as an opportunity rather than as a threat</tspan></text></g>

<g id="pit"><rect class="r" x="458" y="1088" width="15" height="6" rx="2"/><text x="460" y="1092.3">Pitfalls</text></g>
<g id="pf1"><rect class="r" x="338" y="1042" width="105" height="12" rx="2"/><text x="340" y="1046.3">Using strategic planning to gain control over decisions and<tspan x="340" dy="4.1">resources</tspan></text></g>
<g id="pf2"><rect class="r" x="338" y="1058" width="105" height="12" rx="2"/><text x="340" y="1062.3">Doing strategic planning only to satisfy accreditation or regulatory<tspan x="340" dy="4.1">requirements</tspan></text></g>
<g id="pf3"><rect class="r" x="338" y="1074" width="105" height="11" rx="2"/><text x="340" y="1078.3">Too hastily moving from mission development to strategy<tspan x="340" dy="4.1">formulation</tspan></text></g>
<g id="pf4"><rect class="r" x="338" y="1090" width="105" height="11" rx="2"/><text x="340" y="1094.3">Failing to communicate the plan to employees, who continue<tspan x="340" dy="4.1">working in the dark</tspan></text></g>
<g id="pf5"><rect class="r" x="338" y="1106" width="105" height="11" rx="2"/><text x="340" y="1110.3">Top managers making many intuitive decisions that conflict with<tspan x="340" dy="4.1">the formal plan</tspan></text></g>
<g id="pf6"><rect class="r" x="339" y="1121" width="98" height="8" rx="2"/><text x="342" y="1126">Failing to use plans as a standard for measuring performance</text></g>
<g id="pf7"><rect class="r" x="347" y="1132" width="90" height="8" rx="2"/><text x="350" y="1137">Failing to involve key employees in all phases of planning</text></g>
</svg>
